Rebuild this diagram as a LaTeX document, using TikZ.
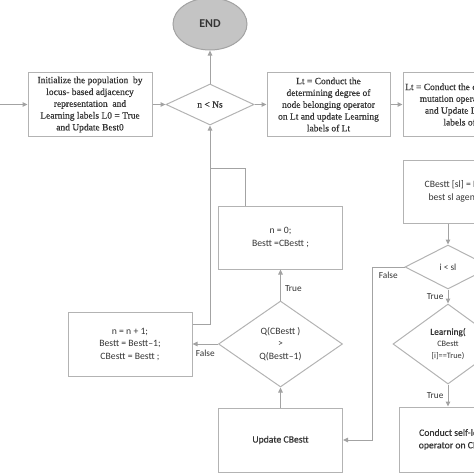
\documentclass[tikz,border=0pt]{standalone}
\usepackage{fontspec}
\setmainfont{Liberation Serif}
\newfontfamily\serifsb[FakeBold=0.7]{Liberation Serif}
\newfontfamily\calib{Carlito}
\newfontfamily\calibsb[FakeBold=0.5]{Carlito}
\usetikzlibrary{shapes.geometric,arrows.meta}
\definecolor{ln}{HTML}{A3A3A3}
\definecolor{bd}{HTML}{B3B3B3}
\definecolor{tx}{HTML}{353535}
\definecolor{endfill}{HTML}{C4C4C4}
\begin{document}
\begin{tikzpicture}[x=1pt,y=-1pt,
 box/.style={draw=bd, line width=1pt, minimum width=124pt, minimum height=64pt, inner sep=0pt, align=center, text=tx},
 serifbox/.style={box, font=\serifsb\fontsize{9.5}{11.8}\selectfont},
 sansbox/.style={box, font=\calib\fontsize{9.7}{12.5}\selectfont},
 sansboldbox/.style={box, font=\calibsb\fontsize{9.7}{12.5}\selectfont},
 dia/.style={draw=bd, line width=1pt, diamond, inner sep=0pt},
 lab/.style={text=tx, align=center, inner sep=0pt},
 flow/.style={draw=ln, line width=1pt, -{Triangle[length=5pt,width=4.5pt]}},
 plain/.style={draw=ln, line width=1pt},
 tf/.style={text=tx, font=\calib\fontsize{9.3}{11}\selectfont, inner sep=0pt}]
\useasboundingbox (0,0) rectangle (474,474);
\clip (0,0) rectangle (474,474);
% nodes
\node[ellipse, draw=ln, line width=1pt, fill=endfill, minimum width=74pt, minimum height=52pt, inner sep=0pt, text=tx, font=\calib\bfseries\fontsize{12}{14}\selectfont] (end) at (210,24) {END};
\node[serifbox] (init) at (90,104.5) {Initialize the population\ \ by\\locus- based adjacency\\representation\ \ and\\Learning labels L0 = True\\and Update Best0};
\node[dia, minimum width=88pt, minimum height=41pt] (d1) at (210,104.5) {};
\node[lab, font=\serifsb\fontsize{9.5}{11}\selectfont] at (d1) {n < Ns};
\node[serifbox, minimum width=123pt] (lt) at (328.5,104.5) {Lt = Conduct the\\determining degree of\\node belonging operator\\on Lt and update Learning\\labels of Lt};
\node[serifbox] (mut) at (465,104.5) {Lt = Conduct the crossover and\\mutation operator on Lt\\and Update Learning\\labels of Lt};
\node[sansbox, minimum height=63pt] (cb) at (465,191.5) {CBestt [sl] = Find the\\best sl agents of Lt};
\node[dia, minimum width=86pt, minimum height=44pt] (d2) at (448,267) {};
\node[lab, font=\calib\fontsize{9.3}{11}\selectfont] at (d2) {i < sl};
\node[dia, minimum width=110pt, minimum height=80pt] (d3) at (448,344) {};
\node[lab, font=\calib\fontsize{8.3}{12}\selectfont] at (d3) {{\calibsb\fontsize{9.3}{12}\selectfont Learning(}\\CBestt\\{[}i{]}==True)};
\node[sansboldbox, minimum height=65pt] (cd) at (461,439.5) {Conduct self-learning\\operator on CBestt {[}i{]}};
\node[sansboldbox] (up) at (280.5,440) {Update CBestt};
\node[dia, minimum width=124pt, minimum height=86pt] (q) at (280.5,344) {};
\node[lab, font=\calib\fontsize{9.7}{12.5}\selectfont] at (q) {Q(CBestt )\\>\\Q(Bestt–1)};
\node[sansbox, minimum height=63pt] (n0) at (280.5,237.5) {n = 0;\\Bestt =CBestt ;};
\node[sansbox] (n1) at (130,344) {n = n + 1;\\Bestt = Bestt–1;\\CBestt = Bestt ;};
% helper coordinates
\coordinate (in) at (0,104.5);
\coordinate (fx) at (372,0);
\coordinate (j1) at (210,324);
\coordinate (j2) at (245,168);
% connectors
\draw[flow] (in) -- (init.west);
\draw[flow] (d1.north) -- (end.south);
\draw[flow] (init.east) -- (d1.west);
\draw[flow] (d1.east) -- (lt.west);
\draw[flow] (lt.east) -- (mut.west);
\draw[flow] (cb.south -| d2.north) -- (d2.north);
\draw[flow] (d2.south) -- node[tf, left=4pt]{True} (d3.north);
\draw[flow] (d3.south) -- node[tf, left=4pt]{True} (cd.north -| d3.south);
\draw[flow] (d2.west) -- node[tf, below=5pt]{False} (d2.west -| fx) |- (up.east);
\draw[flow] (up.north) -- (q.south);
\draw[flow] (q.north) -- node[tf, right=4pt, pos=0.4]{True} (n0.south);
\draw[flow] (q.west) -- node[tf, below=6pt]{False} (n1.east);
\draw[flow] (j1 -| n1.east) -- (j1) -- (d1.south);
\draw[plain] (n0.north -| j2) -- (j2) -- (j2 -| d1.south);
\end{tikzpicture}
\end{document}
